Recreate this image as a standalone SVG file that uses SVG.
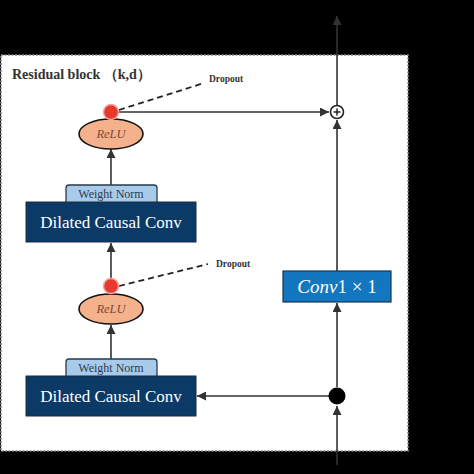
<svg xmlns="http://www.w3.org/2000/svg" width="474" height="474" viewBox="0 0 474 474">
<style>
.ln{stroke:#333;stroke-width:1.6;fill:none}
.dash{stroke:#222;stroke-width:1.8;stroke-dasharray:6,4;fill:none}
.relu{fill:#f5b18c;stroke:#111;stroke-width:1.6}
.rtxt{font-family:"Liberation Serif",serif;font-style:italic;font-size:12.5px;fill:#7a4a35;text-anchor:middle}
.wn{fill:#a9cbeb;stroke:#2a3a4a;stroke-width:1.3}
.wtxt{font-family:"Liberation Serif",serif;font-size:12px;fill:#2a3a50;text-anchor:middle}
.dcc{fill:#0b3a66;stroke:#1c2a3a;stroke-width:1}
.dtxt{font-family:"Liberation Serif",serif;font-size:17px;fill:#fff;text-anchor:middle}
.drop{font-family:"Liberation Serif",serif;font-weight:bold;font-size:9.5px;fill:#333}
.red{fill:#e8392f;stroke:#f4a3a0;stroke-width:1.5}
</style>
<defs>
<marker id="ah" viewBox="0 0 10 10" refX="10" refY="5" markerWidth="9" markerHeight="9" markerUnits="userSpaceOnUse" orient="auto">
<path d="M0,0 L10,5 L0,10 z" fill="#333"/>
</marker>
</defs>
<rect width="474" height="474" fill="#000"/>
<rect x="1" y="55" width="407" height="396" fill="#fff" stroke="#888" stroke-width="1.5" stroke-dasharray="2,1.5"/>
<text x="12" y="79" font-family="Liberation Serif,serif" font-weight="bold" font-size="14" fill="#333">Residual block （k,d）</text>

<g id="connectors">
<line class="ln" x1="337" y1="465" x2="337" y2="406" marker-end="url(#ah)"/>
<line class="ln" x1="337" y1="396" x2="197" y2="396" marker-end="url(#ah)"/>
<line class="ln" x1="337" y1="387" x2="337" y2="303" marker-end="url(#ah)"/>
<line class="ln" x1="337" y1="271" x2="337" y2="120" marker-end="url(#ah)"/>
<line class="ln" x1="337" y1="105" x2="337" y2="16" marker-end="url(#ah)"/>
<line class="ln" x1="118" y1="112" x2="329" y2="112" marker-end="url(#ah)"/>
<line class="ln" x1="111" y1="185" x2="111" y2="149" marker-end="url(#ah)"/>
<line class="ln" x1="111" y1="278" x2="111" y2="243" marker-end="url(#ah)"/>
<line class="ln" x1="111" y1="359" x2="111" y2="325" marker-end="url(#ah)"/>
<line class="dash" x1="119" y1="110" x2="204" y2="83"/>
<line class="dash" x1="119" y1="286" x2="208" y2="264"/>
</g>
<text class="drop" x="209" y="82">Dropout</text>
<text class="drop" x="216" y="267">Dropout</text>

<g id="relu1">
<ellipse class="relu" cx="111" cy="134" rx="32" ry="15"/>
<text class="rtxt" x="111" y="138">ReLU</text>
</g>
<g id="dropout1"><circle class="red" cx="111" cy="112" r="7.5"/></g>
<g id="wn1">
<path class="wn" d="M66,203 L66,188 Q66,185 69,185 L154,185 Q157,185 157,188 L157,203 z"/>
<text class="wtxt" x="111" y="198">Weight Norm</text>
</g>
<g id="conv1">
<rect class="dcc" x="26" y="202" width="170" height="40"/>
<text class="dtxt" x="111" y="228">Dilated Causal Conv</text>
</g>
<g id="relu2">
<ellipse class="relu" cx="111" cy="309" rx="32" ry="15"/>
<text class="rtxt" x="111" y="313">ReLU</text>
</g>
<g id="dropout2"><circle class="red" cx="111" cy="286" r="7.5"/></g>
<g id="wn2">
<path class="wn" d="M66,377 L66,362 Q66,359 69,359 L154,359 Q157,359 157,362 L157,377 z"/>
<text class="wtxt" x="111" y="372">Weight Norm</text>
</g>
<g id="conv2">
<rect class="dcc" x="26" y="376" width="170" height="40"/>
<text class="dtxt" x="111" y="402">Dilated Causal Conv</text>
</g>
<g id="conv1x1">
<rect x="283" y="271" width="108" height="31" fill="#1277bf" stroke="#1c3550" stroke-width="1.2"/>
<text x="337" y="293" font-family="Liberation Serif,serif" font-size="19" fill="#fff" text-anchor="middle"><tspan font-style="italic">Conv</tspan>1 × 1</text>
</g>
<g id="split"><circle cx="337" cy="396" r="8.5" fill="#000"/></g>
<g id="add">
<circle cx="337" cy="112" r="6.5" fill="#fff" stroke="#222" stroke-width="1.6"/>
<line x1="333.5" y1="112" x2="340.5" y2="112" stroke="#222" stroke-width="1.5"/>
<line x1="337" y1="108.5" x2="337" y2="115.5" stroke="#222" stroke-width="1.5"/>
</g>
</svg>
